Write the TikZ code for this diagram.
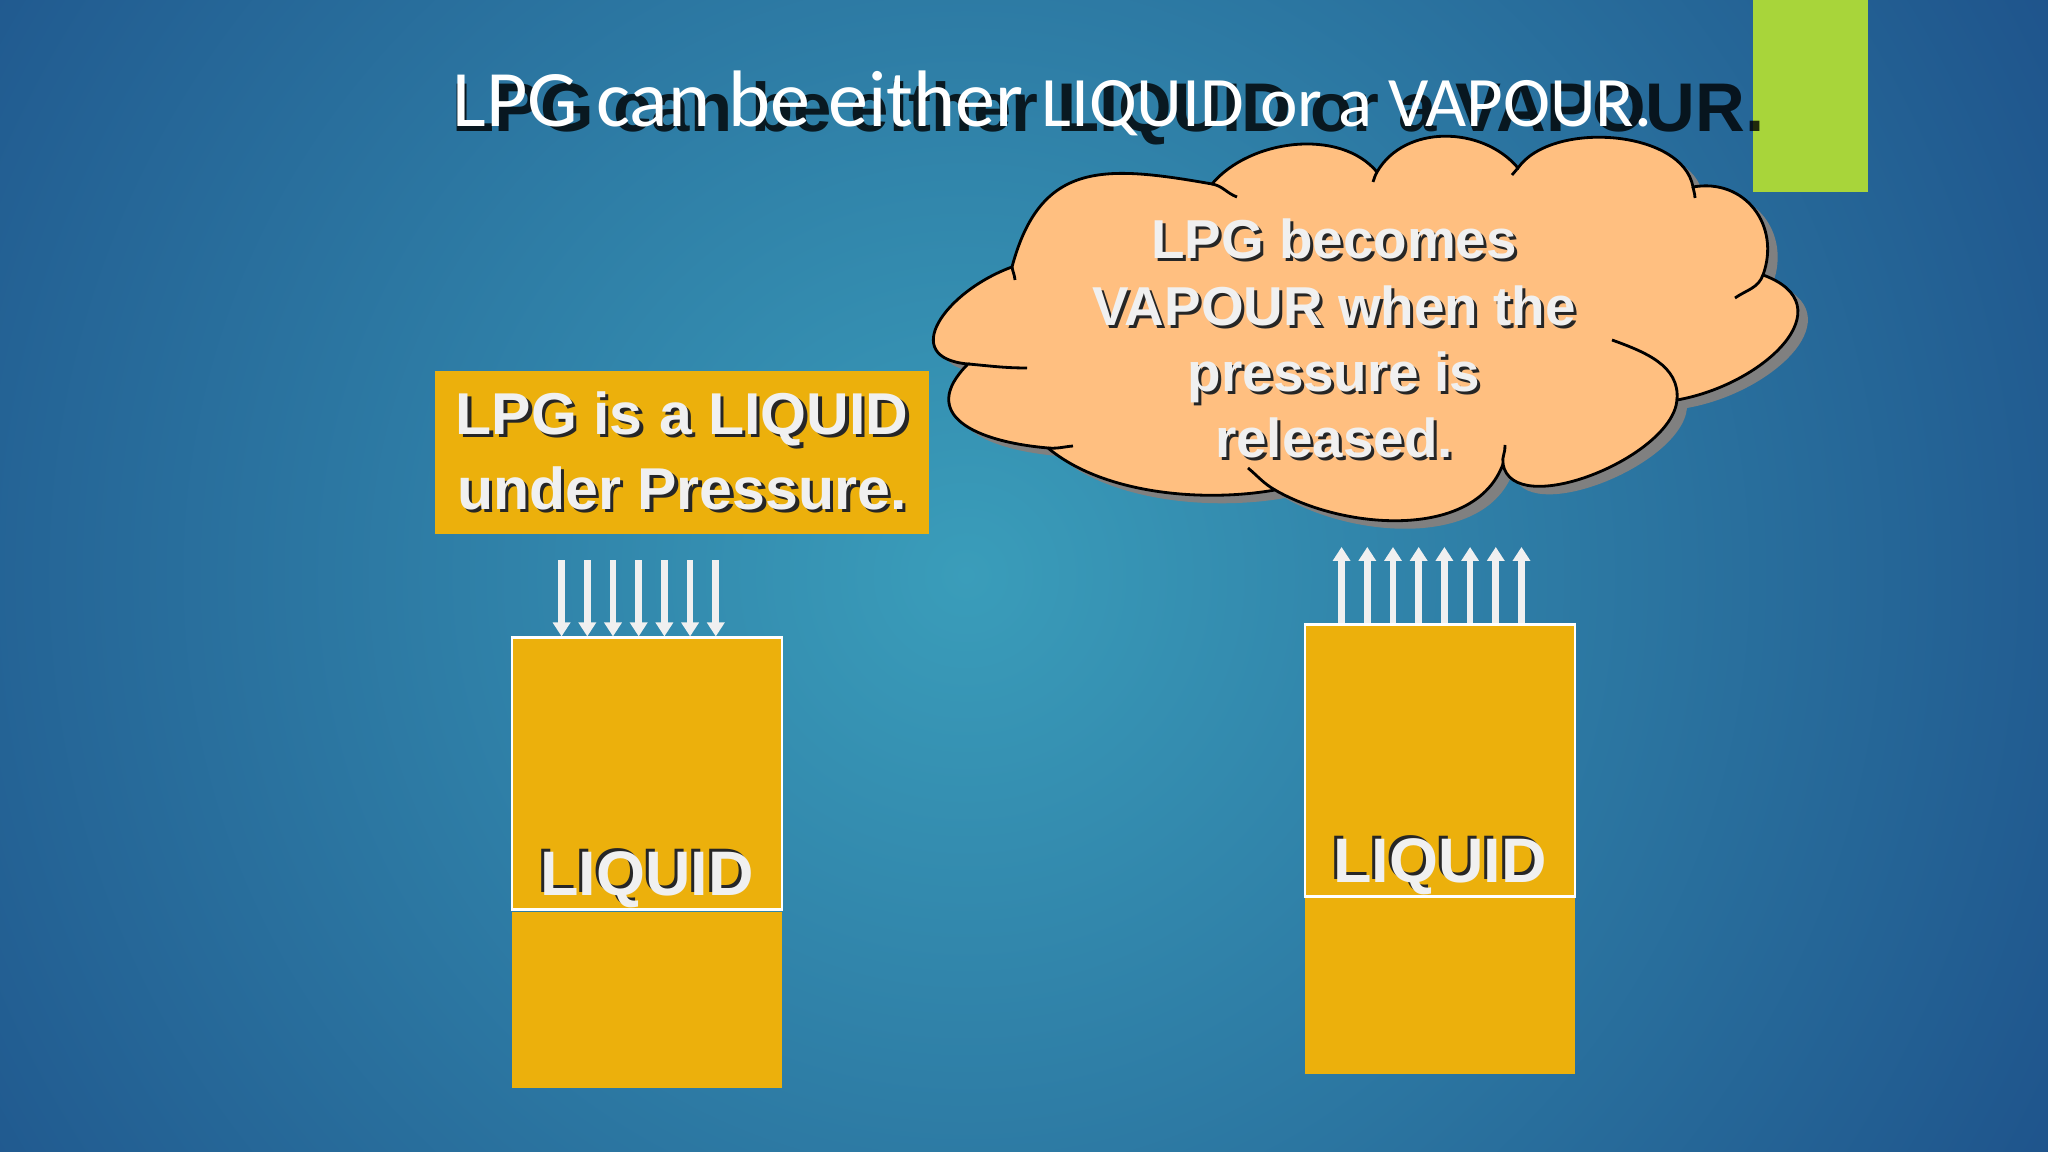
\documentclass[tikz,border=0pt]{standalone}
\usepackage{fontspec}
\setmainfont{Liberation Sans}
\newfontfamily\slidefont{Carlito}
\usetikzlibrary{positioning,arrows.meta,calc}

\definecolor{bgcentre}{HTML}{3A9DBA}
\definecolor{bgedge}{HTML}{14387A}
\definecolor{tankorange}{HTML}{ECB00C}
\definecolor{cloudpeach}{HTML}{FFBF80}
\definecolor{bargreen}{HTML}{A8D53A}
\definecolor{offwhite}{HTML}{F0F0F0}

% text with a dark copy behind it
\newcommand{\shadowed}[3]{\leavevmode\rlap{\hspace{#1}\raisebox{#2}{\color{black!85}#3}}#3}

% outline of the cloud
\newcommand{\cloudoutline}{(10.12,8.85) to[out=75,in=170,looseness=1.3] (12.12,9.68)
  to[out=50,in=130,looseness=0.9] (13.77,9.80)
  to[out=60,in=130] (15.18,9.84)
  to[out=55,in=100,looseness=0.85] (16.93,9.65)
  to[out=10,in=70,looseness=1.2] (17.63,8.77)
  to[out=-20,in=10,looseness=1.5] (16.77,7.52)
  to[out=-95,in=-80,looseness=0.8] (15.03,6.88)
  to[out=-110,in=-30,looseness=0.9] (12.75,6.62)
  to[out=190,in=-40,looseness=0.8] (10.48,7.04)
  to[out=175,in=225,looseness=1.6] (9.68,7.88)
  to[out=175,in=200,looseness=1.7] (10.12,8.85) -- cycle}

\tikzset{
  tankliq/.style={draw=white, line width=0.8pt, fill=tankorange,
    minimum width=2.70cm, minimum height=2.72cm, inner sep=0pt},
  tankbase/.style={fill=tankorange, minimum width=2.70cm,
    minimum height=1.76cm, inner sep=0pt},
  liqlabel/.style={anchor=base, inner sep=0pt, text=offwhite,
    font=\fontsize{17.9pt}{20pt}\selectfont\bfseries},
  pressarrow/.style={draw=offwhite, line width=1.9pt,
    -{Triangle[width=0.17cm,length=0.14cm]}},
  puffline/.style={draw=black, line width=0.8pt}
}

\begin{document}
\begin{tikzpicture}
  \useasboundingbox (0,0) rectangle (20.48,11.52);
  \clip (0,0) rectangle (20.48,11.52);
  \fill[bgedge] (0,0) rectangle (20.48,11.52);
  \shade[inner color=bgcentre, outer color=bgedge] (9.66,5.77) circle (17);
  \fill[bargreen] (17.53,9.60) rectangle (18.68,11.52);

  % title
  \node[anchor=base west, inner sep=0pt, text=black, opacity=0.8,
    font=\fontsize{19.6pt}{22pt}\selectfont\bfseries] (titleshade) at (4.52,10.20)
    {LPG can be either LIQUID or a VAPOUR.};
  \node[anchor=base west, inner sep=0pt, text=white, font=\slidefont] (title) at (4.52,10.25)
    {{\fontsize{22.8pt}{26pt}\selectfont LPG can be either }{\fontsize{20.2pt}{24pt}\selectfont LIQUID or a VAPOUR.}};

  % cloud
  \fill[gray, xshift=0.1cm, yshift=-0.08cm] \cloudoutline;
  \draw[puffline, fill=cloudpeach] \cloudoutline;
  \draw[puffline] (10.12,8.85) to[out=-80,in=95] (10.15,8.72);
  \draw[puffline] (9.68,7.88) to[out=-5,in=180] (10.27,7.84);
  \draw[puffline] (10.48,7.04) to[out=-5,in=185] (10.73,7.06);
  \draw[puffline] (12.75,6.62) to[out=150,in=-40] (12.48,6.84);
  \draw[puffline] (15.03,6.88) to[out=100,in=-85] (15.05,7.07);
  \draw[puffline] (16.77,7.52) to[out=85,in=-20] (16.12,8.12);
  \draw[puffline] (17.63,8.77) to[out=250,in=35] (17.35,8.54);
  \draw[puffline] (16.93,9.65) to[out=-80,in=92] (16.95,9.54);
  \draw[puffline] (15.18,9.84) to[out=-125,in=55] (15.12,9.77);
  \draw[puffline] (13.77,9.80) to[out=-120,in=70] (13.73,9.70);
  \draw[puffline] (12.12,9.68) to[out=-10,in=160] (12.37,9.55);
  \node[align=center, text=offwhite, inner sep=0pt,
    font=\fontsize{15.6pt}{18.8pt}\selectfont\bfseries] (vapourtext) at (13.34,8.12)
    {\shadowed{0.03cm}{-0.03cm}{LPG becomes}\\
     \shadowed{0.03cm}{-0.03cm}{VAPOUR when the}\\
     \shadowed{0.03cm}{-0.03cm}{pressure is}\\
     \shadowed{0.03cm}{-0.03cm}{released.}};

  % liquid under pressure
  \node[fill=tankorange, minimum width=4.94cm, minimum height=1.63cm, inner sep=0pt,
    align=center, text=offwhite,
    font=\fontsize{16.8pt}{21.3pt}\selectfont\bfseries] (pressbox) at (6.82,6.995)
    {\shadowed{0.035cm}{-0.035cm}{LPG is a LIQUID}\\
     \shadowed{0.035cm}{-0.035cm}{under Pressure.}};

  % left tank
  \node[tankbase] (leftbase) at (6.47,1.52) {};
  \node[tankliq, above=0pt of leftbase] (leftliq) {};
  \node[liqlabel] (leftlabel) at ([yshift=0.16cm]leftliq.south)
    {\shadowed{-0.03cm}{0.03cm}{LIQUID}};
  \foreach \i in {0,...,6}
    \draw[pressarrow] ($(leftliq.north west)+(0.51+0.257*\i,0.76)$)
      -- ($(leftliq.north west)+(0.51+0.257*\i,0)$);

  % right tank
  \node[tankbase] (rightbase) at (14.40,1.655) {};
  \node[tankliq, above=0pt of rightbase] (rightliq) {};
  \node[liqlabel] (rightlabel) at ([yshift=0.15cm]rightliq.south)
    {\shadowed{-0.03cm}{0.03cm}{LIQUID}};
  \foreach \i in {0,...,7}
    \draw[pressarrow] ($(rightliq.north west)+(0.38+0.257*\i,0)$)
      -- ($(rightliq.north west)+(0.38+0.257*\i,0.76)$);
\end{tikzpicture}
\end{document}
